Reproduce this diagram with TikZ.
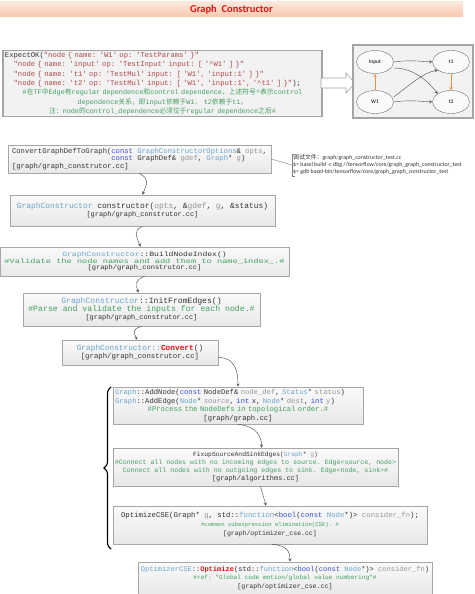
\documentclass[tikz,border=0pt]{standalone}
\usepackage{fontspec}
\usepackage{xcolor}
\usepackage{graphicx}
\setmainfont{Carlito}
\setmonofont{Liberation Mono}
\newfontfamily\cjk{Noto Sans CJK SC}
\usetikzlibrary{shapes.geometric,decorations.pathreplacing}

\definecolor{kwblue}{RGB}{55,75,225}
\definecolor{tyteal}{RGB}{105,165,205}
\definecolor{prmgray}{RGB}{150,150,150}
\definecolor{cmtgreen}{RGB}{65,160,95}
\definecolor{strred}{RGB}{175,70,70}
\definecolor{hotred}{RGB}{225,20,20}
\definecolor{boxline}{RGB}{165,165,165}
\definecolor{boxfill}{RGB}{242,242,242}
\definecolor{peachtop}{RGB}{252,232,220}
\definecolor{peachbot}{RGB}{247,200,172}
\definecolor{edgeorange}{RGB}{237,145,60}

\newcommand{\kw}[1]{\textcolor{kwblue}{#1}}
\newcommand{\ty}[1]{\textcolor{tyteal}{#1}}
\newcommand{\prm}[1]{\textcolor{prmgray}{#1}}
\newcommand{\cmt}[1]{\textcolor{cmtgreen}{#1}}
\newcommand{\strg}[1]{\textcolor{strred}{#1}}
\newcommand{\hot}[1]{\textcolor{hotred}{\bfseries #1}}
\newcommand{\zh}[1]{{\cjk #1}}
\newcommand{\fz}[1]{\fontsize{#1}{#1}\selectfont}
\newcommand{\sx}[2]{\scalebox{#1}[1]{#2}}

\tikzset{
  codebox/.style={rectangle, draw=black!35, line width=0.7pt, top color=black!2, bottom color=black!9, inner sep=1pt, align=center, text=black!80},
  plainbox/.style={rectangle, draw=boxline, line width=1.1pt, fill=boxfill, inner sep=2pt, text=black!80},
  gnode/.style={ellipse, draw=black!55, fill=black!2, minimum width=37pt, minimum height=23pt, inner sep=0pt, font=\fontsize{5.5}{6}\selectfont},
  flow/.style={->, black!75, line width=0.4pt},
  gedge/.style={->, black!70, line width=0.4pt},
  oedge/.style={->, edgeorange, line width=0.5pt}
}

\begin{document}
\begin{tikzpicture}[x=1pt, y=-1pt, >=stealth]
    \useasboundingbox (0,0) rectangle (474,594);

    % title
    \node[rectangle, top color=peachtop, bottom color=peachbot, minimum width=463pt, minimum height=15pt, inner sep=0pt,
          font=\fontsize{10.5}{12}\selectfont\bfseries, text=hotred] (title) at (231.5,9.5) {Graph\ \ Constructor};

    % test case
    \node[plainbox, text width=315pt, align=left, font=\ttfamily\fontsize{7.2}{9.3}\selectfont] (expect) at (162.5,83.5)
      {ExpectOK(\strg{"node \{ name: 'W1' op: 'TestParams' \}"}\\
       \hspace*{1.2em}\strg{"node \{ name: 'input' op: 'TestInput' input: [ '\textasciicircum W1' ] \}"}\\
       \hspace*{1.2em}\strg{"node \{ name: 't1' op: 'TestMul' input: [ 'W1', 'input:1' ] \}"}\\
       \hspace*{1.2em}\strg{"node \{ name: 't2' op: 'TestMul' input: [ 'W1', 'input:1', '\textasciicircum t1' ] \}"});\\
       \makebox[\linewidth]{\fz{6.8}\cmt{\#\zh{在}TF\zh{中}Edge\zh{有}regular dependence\zh{和}control dependence\zh{，上述符号}\textasciicircum\zh{表示}control}}\\
       \makebox[\linewidth]{\fz{6.8}\cmt{dependence\zh{关系，即}input\zh{依赖于}W1\zh{，} t2\zh{依赖于}t1\zh{。}}}\\
       \makebox[\linewidth]{\fz{6.8}\cmt{\zh{注：}node\zh{的}control\_dependence\zh{必须位于}regular dependence\zh{之后}\#}}};

    % big arrow
    \draw[boxline, fill=white, line width=0.6pt] (321,78) -- (346,78) -- (346,73) -- (355,83) -- (346,93) -- (346,88) -- (321,88) -- cycle;

    % graph of the test case
    \node[plainbox, minimum width=120pt, minimum height=73pt] (graphbox) at (413,81.5) {};
    \node[gnode] (in) at (375,62) {Input};
    \node[gnode] (t1) at (451,62) {t1};
    \node[gnode] (w1) at (375,102) {W1};
    \node[gnode] (t2) at (451,102) {t2};

    \draw[gedge] (in.east) .. controls +(14,-2) and +(-14,-1) .. (t1.west);
    \draw[gedge] ([yshift=-6pt]in.east) .. controls +(22,0) and +(-8,-10) .. (t2.north west);
    \draw[gedge] ([yshift=5pt]w1.east) .. controls +(16,-12) and +(-14,2) .. (t1.south west);
    \draw[gedge] (w1.east) .. controls +(14,-2) and +(-14,-1) .. (t2.west);
    \draw[oedge] (w1) -- (in);
    \draw[oedge] (t1) -- (t2);

    % call chain
    \node[codebox, align=left, minimum width=263pt, minimum height=28pt, font=\ttfamily\fontsize{7.2}{7.3}\selectfont] (defgraph) at (139.5,159)
      {ConvertGraphDefToGraph(\kw{const} \ty{GraphConstructorOptions}\& \prm{opts},\\
       \phantom{ConvertGraphDefToGraph(}\kw{const} GraphDef\& \prm{gdef}, \ty{Graph}* \prm{g})\\
       {[graph/graph\_construtor.cc]}};

    \node[font=\fontsize{5.9}{7}\selectfont, align=left, anchor=west, inner sep=1pt, text=black!80] (note) at (292,165)
      {\zh{调试文件：}graph/graph\_constructor\_test.cc\\
       \$> bazel build -c dbg //tensorflow/core/graph\_graph\_constructor\_test\\
       \$> gdb bazel-bin/tensorflow/core/graph\_graph\_constructor\_test};
    \draw[black!50] ([xshift=3pt]note.north west) -- (note.north west) -- (note.south west) -- ([xshift=3pt]note.south west);
    \draw[black!50] (defgraph.east) -- (note.west);

    \node[codebox, minimum width=265pt, minimum height=31pt, font=\ttfamily\fontsize{7.9}{8}\selectfont] (ctor) at (142.5,210.5)
      {\ty{GraphConstructor} constructor(\prm{opts}, \&\prm{gdef}, \prm{g}, \&status)\\
       {\fz{6.9}[graph/graph\_construtor.cc]}};

    \node[codebox, minimum width=289pt, minimum height=29pt, font=\ttfamily\fontsize{6.5}{6.4}\selectfont] (nodeindex) at (144.5,261.5)
      {\sx{1.24}{\ty{GraphConstructor}::BuildNodeIndex()}\\
       \sx{1.33}{\cmt{\#Validate the node names and add them to name\_index\_.\#}}\\
       {\sx{1.08}{[graph/graph\_construtor.cc]}}};

    \node[codebox, minimum width=237pt, minimum height=33pt, font=\ttfamily\fontsize{8.1}{8}\selectfont] (fromedges) at (141.5,309.5)
      {\ty{GraphConstructor}::InitFromEdges()\\
       {\fz{8.2}\cmt{\#Parse and validate the inputs for each node.\#}}\\
       {\fz{6.9}[graph/graph\_construtor.cc]}};

    \node[codebox, minimum width=156pt, minimum height=25pt, font=\ttfamily\fontsize{7.8}{7.3}\selectfont] (convert) at (140,352.5)
      {\ty{GraphConstructor::}\hot{Convert}()\\
       {\fz{7.3}[graph/graph\_construtor.cc]}};

    \node[codebox, text width=246pt, align=left, minimum height=37pt, inner sep=2pt, font=\ttfamily\fontsize{7.2}{8.7}\selectfont] (addnode) at (238,405.5)
      {\ty{Graph}::AddNode(\kw{const} NodeDef\& \prm{node\_def}, \ty{Status}* \prm{status})\\
       \ty{Graph}::AddEdge(\ty{Node}* \prm{source}, \kw{int} x, \ty{Node}* \prm{dest}, \kw{int} \prm{y})\\
       \makebox[\linewidth]{\cmt{\#Process the NodeDefs in topological order.\#}}\\
       \makebox[\linewidth]{[graph/graph.cc]}};

    \node[codebox, minimum width=285pt, minimum height=38pt, font=\ttfamily\fontsize{6.6}{8}\selectfont] (fixup) at (255.5,467)
      {{\fz{6.3}FixupSourceAndSinkEdges(\ty{Graph}* \prm{g})}\\
       \cmt{\#Connect all nodes with no incoming edges to source. Edge<source, node>}\\
       \cmt{Connect all nodes with no outgoing edges to sink. Edge<node, sink>\#}\\
       {\fz{6.9}[graph/algorithms.cc]}};

    \node[codebox, minimum width=314pt, minimum height=38pt, font=\ttfamily\fontsize{7.3}{9}\selectfont] (cse) at (270,525)
      {OptimizeCSE(Graph* \prm{g}, std::\ty{function}<\kw{bool}(\kw{const} \ty{Node}*)> \prm{consider\_fn});\\
       {\fz{5.6}\cmt{\#common subexpression elimination(CSE). \#}}\\
       {\fz{6.5}[graph/optimizer\_cse.cc]}};

    \node[codebox, minimum width=294pt, minimum height=32pt, font=\ttfamily\fontsize{7.06}{8.5}\selectfont] (optimize) at (285,578)
      {\ty{OptimizerCSE}::\hot{Optimize}(std::\ty{function}<\kw{bool}(\kw{const} \ty{Node}*)> \prm{consider\_fn})\\
       {\fz{6.1}\cmt{\#ref: "Global code motion/global value numbering"\#}}\\
       {\fz{6.6}[graph/optimizer\_cse.cc]}};

    \draw[flow] (defgraph.south) .. controls +(10,6) and +(5,-12) .. (ctor.north);
    \draw[flow] (ctor.south) .. controls +(-10,4) and +(-4,-10) .. ([xshift=-4pt]nodeindex.north);
    \draw[flow] (nodeindex.south) .. controls +(-10,4) and +(-3,-8) .. ([xshift=-3pt]fromedges.north);
    \draw[flow] (fromedges.south) .. controls +(-10,3) and +(-3,-7) .. ([xshift=-3pt]convert.north);
    \draw[flow] ([yshift=-5pt]convert.east) .. controls +(17,0) and +(0,-15) .. (addnode.north);
    \draw[flow] (addnode.south) .. controls +(20,2) and +(0,-10) .. ([xshift=6pt]fixup.north);
    \draw[flow] ([xshift=5pt]fixup.south) -- ([xshift=-4pt]cse.north);
    \draw[flow] ([xshift=2pt]cse.south) .. controls +(15,1) and +(0,-10) .. ([xshift=5pt]optimize.north);

    % steps inside Convert()
    \draw[decorate, decoration={brace, amplitude=7pt}, line width=1.1pt] (111,549) -- (111,387);
\end{tikzpicture}
\end{document}
